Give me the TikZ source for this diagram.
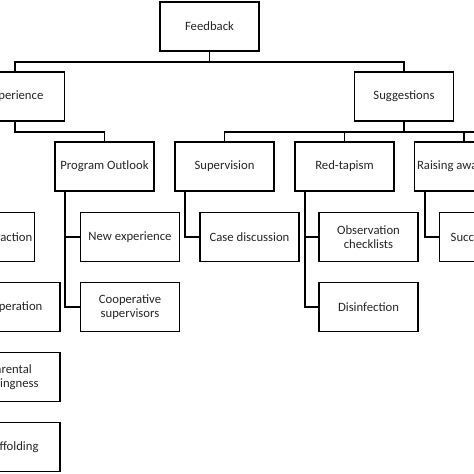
\documentclass[tikz,border=0pt]{standalone}
\usepackage{fontspec}
\setmainfont{Carlito}
\tikzset{
  box/.style={draw=black, line width=1.8pt, fill=white, minimum width=99pt, minimum height=49pt,
    inner sep=1pt, align=center, text=black!85, font=\fontsize{12.7}{14}\selectfont},
  conn/.style={draw=black, line width=1.8pt},
}
\begin{document}
\begin{tikzpicture}[x=1pt, y=-1pt]
\useasboundingbox (0,0) rectangle (474,474);
\clip (0,0) rectangle (474,474);
\fill[white] (0,0) rectangle (474,474);
% level 0
\node[box] (fb) at (209.5,26.5) {Feedback};
% level 1
\node[box] (exp) at (15,96.5) {Experience};
\node[box] (sug) at (404,96.5) {Suggestions};
% level 2
\node[box] (po)  at (104.5,166.5) {Program Outlook};
\node[box] (sup) at (224.5,166.5) {Supervision};
\node[box] (red) at (344.5,166.5) {Red-tapism};
\node[box] (rai) at (464,166.5) {Raising awareness};
% level 3, left column
\node[box] (ia)  at (-15,237) {};
\node[font=\fontsize{12.7}{14}\selectfont, text=black!85, anchor=east, inner sep=0pt] (iat) at (32.5,237) {Interaction};
\node[box] (co)  at (10.5,307) {Cooperation};
\node[box] (pw)  at (10.5,377) {Parental\\willingness};
\node[box] (sc)  at (10.5,447) {Scaffolding};
% level 3
\node[box] (ne)  at (130,237) {New experience};
\node[box] (cs)  at (130,307) {Cooperative\\supervisors};
\node[box] (cd)  at (249.5,237) {Case discussion};
\node[box] (oc)  at (368.5,237) {Observation\\checklists};
\node[box] (dis) at (368.5,307) {Disinfection};
\node[box] (suc) at (489,237) {Success stories};
% connectors
\coordinate (fbj) at ([yshift=-10pt]fb.south);
\draw[conn] (fb.south) -- (fbj) -| (exp.north);
\draw[conn] (fbj) -| (sug.north);
\coordinate (expj) at ([yshift=-10pt]exp.south);
\draw[conn] (exp.south) -- (expj) -| (po.north);
\coordinate (sugj) at ([yshift=-10pt]sug.south);
\coordinate (sugend) at ([xshift=90pt]sugj);
\draw[conn] (sug.south) -- (sugj) -| (sup.north);
\draw[conn] (sugj) -| (red.north);
\draw[conn] (sugj) -| (rai.north);
\draw[conn] (sugj) -- (sugend);
% stems
\coordinate (pos) at ([xshift=11pt]po.south west);
\draw[conn] (pos) |- (ne.west);
\draw[conn] (pos) |- (cs.west);
\coordinate (sups) at ([xshift=11pt]sup.south west);
\draw[conn] (sups) |- (cd.west);
\coordinate (reds) at ([xshift=11pt]red.south west);
\draw[conn] (reds) |- (oc.west);
\draw[conn] (reds) |- (dis.west);
\coordinate (rais) at ([xshift=11pt]rai.south west);
\draw[conn] (rais) |- (suc.west);
\end{tikzpicture}
\end{document}
